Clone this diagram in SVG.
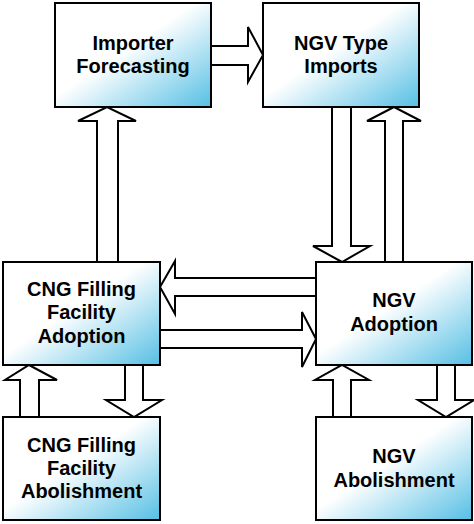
<svg xmlns="http://www.w3.org/2000/svg" width="474" height="524" viewBox="0 0 474 524">
<style>
.box{stroke:#000;stroke-width:2;fill:url(#g)}
.arr{fill:#fff;stroke:#000;stroke-width:2;stroke-linejoin:miter}
text{font-family:"Liberation Sans",Arial,sans-serif;font-weight:bold;font-size:20px;fill:#000;text-anchor:middle}
</style>
<defs>
<linearGradient id="g" x1="0" y1="0" x2="1" y2="1">
<stop offset="0" stop-color="#fff"/>
<stop offset="0.45" stop-color="#fff"/>
<stop offset="1" stop-color="#56bfe4"/>
</linearGradient>
</defs>
<rect width="474" height="524" fill="#fff"/>
<g id="connectors">
<polygon class="arr" points="211,46 248,46 248,27 263,55 248,82 248,65 211,65"/>
<polygon class="arr" points="97,262 97,121 78,121 107,107 136,121 118,121 118,262"/>
<polygon class="arr" points="332,107 332,246 313,246 342,262 370,246 351,246 351,107"/>
<polygon class="arr" points="385,262 385,121 367,121 394,107 421,121 403,121 403,262"/>
<polygon class="arr" points="316,278 175,278 175,261 160,287 175,314 175,296 316,296"/>
<polygon class="arr" points="160,330 302,330 302,312 316,339 302,367 302,348 160,348"/>
<polygon class="arr" points="20,417 20,380 5,380 29,365 57,380 39,380 39,417"/>
<polygon class="arr" points="125,365 125,400 106,400 134,417 162,400 143,400 143,365"/>
<polygon class="arr" points="333,417 333,380 315,380 342,365 369,380 351,380 351,417"/>
<polygon class="arr" points="437,365 437,400 418,400 446,417 474,400 455,400 455,365"/>
</g>
<g id="importer-forecasting">
<rect class="box" x="55" y="3" width="156" height="104"/>
<text x="133" y="50">Importer</text>
<text x="133" y="73">Forecasting</text>
</g>
<g id="ngv-type-imports">
<rect class="box" x="263" y="3" width="156" height="104"/>
<text x="341" y="50">NGV Type</text>
<text x="341" y="73">Imports</text>
</g>
<g id="cng-adoption">
<rect class="box" x="3" y="262" width="157" height="103"/>
<text x="81.5" y="296">CNG Filling</text>
<text x="81.5" y="319">Facility</text>
<text x="81.5" y="343">Adoption</text>
</g>
<g id="ngv-adoption">
<rect class="box" x="316" y="262" width="156" height="103"/>
<text x="394" y="307">NGV</text>
<text x="394" y="331">Adoption</text>
</g>
<g id="cng-abolishment">
<rect class="box" x="3" y="417" width="157" height="103"/>
<text x="81.5" y="452">CNG Filling</text>
<text x="81.5" y="475">Facility</text>
<text x="81.5" y="498">Abolishment</text>
</g>
<g id="ngv-abolishment">
<rect class="box" x="316" y="417" width="156" height="103"/>
<text x="394" y="463">NGV</text>
<text x="394" y="487">Abolishment</text>
</g>
</svg>
